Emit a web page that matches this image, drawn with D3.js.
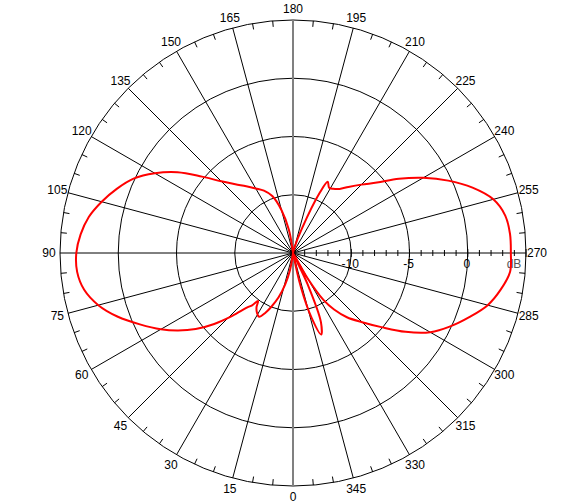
<!DOCTYPE html>
<html><head><meta charset="utf-8">
<script src="https://cdn.jsdelivr.net/npm/d3@7"></script>
<style>body{margin:0;background:#fff}text{font-family:Arial,"Liberation Sans",sans-serif;font-size:12px}</style>
</head><body><svg id="c" width="564" height="503"></svg>
<script>
const angles = [0,5,10,14,18,22,25,28,31,34,36,38,40,44,48,52,56,60,65,70,75,80,85,90,95,100,105,110,115,120,125,130,135,140,145,150,155,160,165,170,175,180,185,190,195,200,204,206,209,212,216,220,225,230,235,240,245,250,255,260,265,270,275,280,285,290,295,300,305,310,315,320,324,327,330,333,335,338,341,344,347,350,355];
const gainDb = [-15,-15,-13.5,-12.2,-11,-10,-9.3,-8.8,-9.0,-9.4,-9.9,-9.3,-8.9,-7.5,-5.9,-4.4,-3.1,-1.9,-0.5,1.0,2.3,3.2,3.6,3.6,3.3,2.8,2.0,1.1,0.1,-1.3,-2.9,-4.8,-6.3,-7.3,-8.0,-8.6,-9.1,-9.8,-11.2,-13,-15,-15,-15,-15,-14.5,-12.8,-9.3,-8.2,-8.6,-8.5,-8.2,-7.6,-6.7,-5.6,-3.9,-2.1,-0.3,1.4,2.8,3.5,3.7,3.7,3.7,3.1,2.3,1.1,-0.1,-1.4,-3.2,-5.1,-6.6,-7.8,-9.0,-10.2,-12.5,-15,-12,-8.6,-7.6,-9.2,-12,-15,-15];
const ringDb = [-10,-5,0,5];
const axisLabels = ["-10","-5","0","dB"];
const angleLabels = d3.range(0,360,15);

const cx=293, cy=253, R=233;
const svg=d3.select("#c");
const g=svg.append("g").attr("transform",`translate(${cx},${cy})`);
const r=d3.scaleLinear().domain([-15,5]).range([0,R]);
const rad=t=>(t+180)*Math.PI/180; // 0 at bottom, clockwise
const px=(t,rr)=>[rr*Math.sin(rad(t)), -rr*Math.cos(rad(t))];

ringDb.forEach(d=>g.append("circle").attr("r",r(d)).attr("fill","none").attr("stroke","#000").attr("stroke-width",1));
angleLabels.forEach(t=>{
  const [x,y]=px(t,R);
  g.append("line").attr("x1",0).attr("y1",0).attr("x2",x).attr("y2",y)
   .attr("stroke",(t%180===0)?"#808080":"#000").attr("stroke-width",(t%180===0)?2:1);
});
d3.range(0,360,5).forEach(t=>{
  if(t%15===0) return;
  const [x1,y1]=px(t,R),[x2,y2]=px(t,R-6);
  g.append("line").attr("x1",x1).attr("y1",y1).attr("x2",x2).attr("y2",y2).attr("stroke","#000");
});
angleLabels.forEach(t=>{
  const [x,y]=px(t,R+11);
  g.append("text").attr("x",x).attr("y",y).attr("dy","0.35em").attr("text-anchor","middle").text(t);
});
d3.range(-14,6,1).forEach(d=>{
  const x=r(d), h=(d%5===0)?4:3;
  g.append("line").attr("x1",x).attr("x2",x).attr("y1",-h).attr("y2",h).attr("stroke","#000");
});
ringDb.forEach((d,i)=>{
  g.append("text").attr("x",r(d)-(i===3?12:1)).attr("y",15).attr("text-anchor","middle").attr("fill",i===3?"#555":"#000").text(axisLabels[i]);
});
const line=d3.lineRadial().angle((d,i)=>rad(angles[i])).radius(d=>r(d)).curve(d3.curveCatmullRomClosed.alpha(0.5));
g.append("path").attr("d",line(gainDb)).attr("fill","none").attr("stroke","#f00").attr("stroke-width",2);
</script></body></html>
